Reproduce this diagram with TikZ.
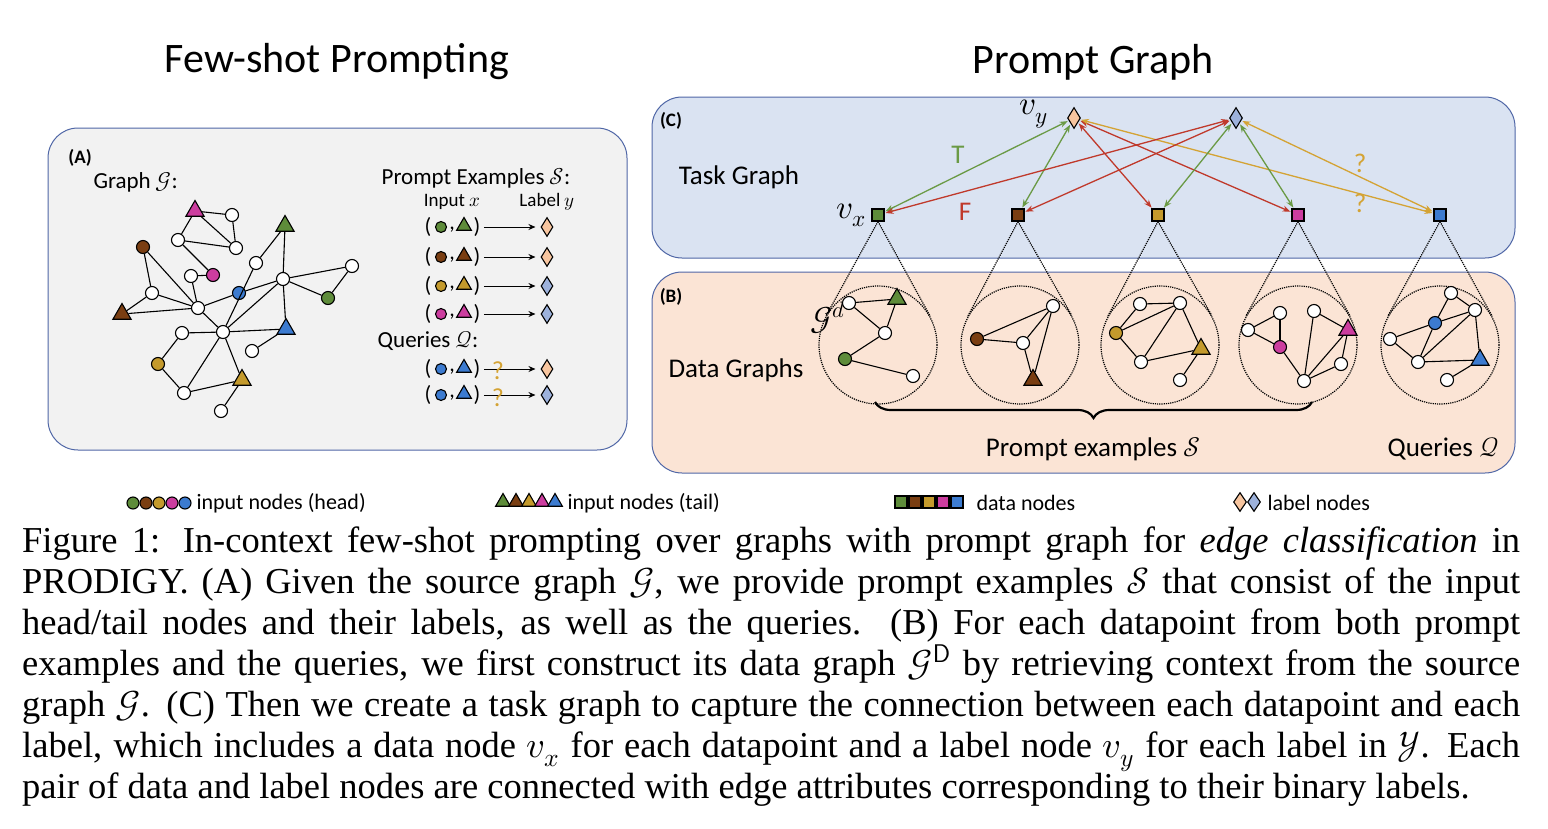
\documentclass[tikz,border=0pt]{standalone}
\usepackage{fontspec}
\usepackage{unicode-math}
\setmainfont{Liberation Serif}
\setmathfont{Latin Modern Math}
\newfontfamily\sff{Carlito}
\usetikzlibrary{shapes.geometric,arrows.meta,calc,decorations.pathreplacing}
\definecolor{cgreen}{HTML}{5E8C3A}
\definecolor{cbrown}{HTML}{7A3E12}
\definecolor{cgold}{HTML}{C49A2C}
\definecolor{cmag}{HTML}{CC3D9F}
\definecolor{cblue}{HTML}{3C7BD0}
\definecolor{dorange}{HTML}{F7C59F}
\definecolor{dblue}{HTML}{9DB2DC}
\definecolor{aT}{HTML}{6A9A45}
\definecolor{aF}{HTML}{C0392B}
\definecolor{aQ}{HTML}{D4A334}
\definecolor{boxline}{HTML}{4F66A6}
\definecolor{fillC}{HTML}{DAE3F2}
\definecolor{fillB}{HTML}{FBE4D5}
\tikzset{
  wn/.style={circle,draw,fill=white,inner sep=0pt,minimum size=13pt,line width=1.1pt},
  hn/.style={wn,fill=#1},
  tn/.style={regular polygon,regular polygon sides=3,draw,fill=#1,inner sep=0pt,minimum size=21pt,line width=1.1pt},
  dn/.style={diamond,draw,fill=#1,inner sep=0pt,minimum width=13pt,minimum height=21pt,line width=1.1pt},
  sq/.style={rectangle,draw,fill=#1,inner sep=0pt,minimum size=12pt,line width=1.1pt},
  ge/.style={line width=1.1pt},
  panel/.style={draw=boxline,line width=1pt,rounded corners=30pt},
  ta/.style={<->,>={Stealth[length=8pt,width=6pt]},line width=1.3pt},
  lab/.style={font=\sff\fontsize{27}{30}\selectfont},
}
\begin{document}
\begin{tikzpicture}[x=1pt,y=-1pt]
\useasboundingbox (0,0) rectangle (1548,828);
% titles
\node[font=\sff\fontsize{42}{44}\selectfont] (tA) at (337,62) {Few-shot Prompting};
\node[font=\sff\fontsize{42}{44}\selectfont] (tB) at (1093,62) {Prompt Graph};
% panels
\draw[panel,fill=black!5] (48,128) rectangle (627,450);
\draw[panel,fill=fillC] (652,97) rectangle (1515,258);
\draw[panel,fill=fillB] (652,272) rectangle (1515,473);

% (A) source graph
\node[font=\sff\bfseries\fontsize{19}{20}\selectfont] (lA) at (80,158) {(A)};
\node[font=\sff\fontsize{23}{25}\selectfont,anchor=west] (lG) at (90,182) {Graph $\mathcal{G}$:};
\node[tn=cmag] (a1) at (195,211) {};
\node[wn] (a2) at (232,215) {};
\node[tn=cgreen] (a3) at (285,226) {};
\node[wn] (a4) at (178,240) {};
\node[wn] (a5) at (236,248) {};
\node[hn=cbrown] (a6) at (143,247) {};
\node[wn] (a7) at (256,263) {};
\node[wn] (a8) at (352,266) {};
\node[wn] (a9) at (191,276) {};
\node[hn=cmag] (a10) at (213,275) {};
\node[wn] (a11) at (283,279) {};
\node[hn=cblue] (a12) at (239,293) {};
\node[wn] (a13) at (152,293) {};
\node[hn=cgreen] (a14) at (328,298) {};
\node[tn=cbrown] (a15) at (122,314) {};
\node[wn] (a16) at (198,308) {};
\node[tn=cblue] (a17) at (286,329) {};
\node[wn] (a18) at (182,333) {};
\node[wn] (a19) at (223,332) {};
\node[wn] (a20) at (252,351) {};
\node[hn=cgold] (a21) at (158,364) {};
\node[tn=cgold] (a22) at (242,380) {};
\node[wn] (a23) at (184,393) {};
\node[wn] (a24) at (221,411) {};
\foreach \u/\v in {1/2,1/4,1/5,2/5,4/5,4/10,9/10,9/16,6/13,6/16,13/15,13/16,15/16,
  16/12,12/11,16/19,3/7,3/11,7/19,11/8,8/14,11/14,11/17,11/19,19/17,19/18,19/23,
  19/22,18/21,21/23,23/22,22/24,20/17}
  \draw[ge] (a\u) -- (a\v);

% (A) prompt examples
\node[font=\sff\fontsize{23}{25}\selectfont] (lS) at (476,178) {Prompt Examples $\mathcal{S}$:};
\node[font=\sff\fontsize{19}{20}\selectfont] (lx) at (452,202) {Input $x$};
\node[font=\sff\fontsize{19}{20}\selectfont] (ly) at (547,202) {Label $y$};
\node[font=\sff\fontsize{23}{25}\selectfont] (lQ) at (428,341) {Queries $\mathcal{Q}$:};
\foreach \i/\y/\hc/\lc in {1/227/cgreen/dorange,2/257/cbrown/dorange,3/286/cgold/dblue,
  4/314/cmag/dblue,5/369/cblue/dorange,6/395/cblue/dblue}{
  \node[font=\sff\fontsize{22}{24}\selectfont] (po\i) at (428,\y) {(};
  \node[hn=\hc,minimum size=11pt] (ph\i) at (441,\y) {};
  \node[font=\sff\fontsize{22}{24}\selectfont] (pc\i) at (452,\y+3) {,};
  \node[tn=\hc,minimum size=17pt] (pt\i) at (464,\y-1) {};
  \node[font=\sff\fontsize{22}{24}\selectfont] (pp\i) at (477,\y) {)};
  \node[dn=\lc,minimum width=12pt,minimum height=19pt] (pd\i) at (547,\y) {};
  \draw[->,>={Stealth[length=7pt,width=6pt]},line width=1pt] (pp\i.east) -- ([xshift=-5pt]pd\i.west);
}
\node[text=aQ,font=\sff\fontsize{26}{28}\selectfont] (q1) at (498,371) {?};
\node[text=aQ,font=\sff\fontsize{26}{28}\selectfont] (q2) at (498,398) {?};

% (C) task graph
\node[font=\sff\bfseries\fontsize{19}{20}\selectfont] (lC) at (671,121) {(C)};
\node[lab] (lT) at (739,177) {Task Graph};
\node[dn=dorange] (y1) at (1074,118) {};
\node[dn=dblue] (y2) at (1236,118) {};
\node[sq=cgreen] (x1) at (878,215) {};
\node[sq=cbrown] (x2) at (1018,215) {};
\node[sq=cgold] (x3) at (1158,215) {};
\node[sq=cmag] (x4) at (1298,215) {};
\node[sq=cblue] (x5) at (1440,215) {};
\node[font=\fontsize{33}{34}\selectfont] (vy) at (1034,114) {$v_y$};
\node[font=\fontsize{33}{34}\selectfont] (vx) at (851,215) {$v_x$};
\foreach \a/\b/\c in {y1/x1/aT,y1/x2/aT,y1/x3/aF,y1/x4/aF,y1/x5/aQ,
  y2/x1/aF,y2/x2/aF,y2/x3/aT,y2/x4/aT,y2/x5/aQ}
  \draw[ta,draw=\c,shorten <=1pt,shorten >=1pt] (\a) -- (\b);
\node[text=aT,lab] (eT) at (958,155) {T};
\node[text=aF,lab] (eF) at (965,212) {F};
\node[text=aQ,lab] (eQ1) at (1360,163) {?};
\node[text=aQ,lab] (eQ2) at (1360,203) {?};

% (B) data graphs
\node[font=\sff\bfseries\fontsize{19}{20}\selectfont] (lB) at (671,297) {(B)};
\node[font=\fontsize{32}{33}\selectfont] (Gd) at (828,318) {$\mathcal{G}^d$};
\node[lab] (lD) at (736,370) {Data Graphs};
\foreach \k/\cx in {1/878,2/1020,3/1160,4/1298,5/1440}{
  \node[circle,draw,densely dotted,line width=1.2pt,minimum size=118pt,inner sep=0pt] (c\k) at (\cx,345) {};
  \draw[densely dotted,line width=1.2pt] (x\k.south) -- (tangent cs:node=c\k,point={(x\k.south)},solution=1);
  \draw[densely dotted,line width=1.2pt] (x\k.south) -- (tangent cs:node=c\k,point={(x\k.south)},solution=2);
}
% graph 1
\node[wn] (b1) at (849,303) {};
\node[tn=cgreen] (b2) at (897,299) {};
\node[wn] (b3) at (885,333) {};
\node[hn=cgreen] (b4) at (845,359) {};
\node[wn] (b5) at (913,376) {};
% graph 2
\node[hn=cbrown] (d1) at (977,339) {};
\node[wn] (d2) at (1053,306) {};
\node[wn] (d3) at (1023,343) {};
\node[tn=cbrown] (d4) at (1033,380) {};
% graph 3
\node[wn] (e1) at (1140,304) {};
\node[wn] (e2) at (1180,303) {};
\node[hn=cgold] (e3) at (1116,333) {};
\node[tn=cgold] (e4) at (1201,349) {};
\node[wn] (e5) at (1141,362) {};
\node[wn] (e6) at (1180,380) {};
% graph 4
\node[wn] (f1) at (1280,313) {};
\node[wn] (f2) at (1314,311) {};
\node[wn] (f3) at (1248,330) {};
\node[hn=cmag] (f4) at (1280,347) {};
\node[tn=cmag] (f5) at (1348,330) {};
\node[wn] (f6) at (1341,364) {};
\node[wn] (f7) at (1304,381) {};
% graph 5
\node[wn] (h1) at (1451,293) {};
\node[wn] (h2) at (1475,310) {};
\node[hn=cblue] (h3) at (1435,323) {};
\node[wn] (h4) at (1390,339) {};
\node[wn] (h5) at (1418,362) {};
\node[tn=cblue] (h6) at (1480,360) {};
\node[wn] (h7) at (1447,380) {};
\foreach \u/\v in {b1/b2,b1/b3,b2/b3,b3/b4,b4/b5,
  d1/d2,d1/d3,d2/d3,d2/d4,d3/d4,
  e1/e2,e1/e3,e3/e2,e2/e5,e2/e4,e3/e5,e5/e4,e4/e6,
  f1/f4,f3/f1,f3/f4,f4/f7,f2/f7,f2/f5,f5/f7,f5/f6,f6/f7,
  h1/h3,h1/h2,h3/h2,h3/h4,h3/h5,h2/h5,h2/h6,h5/h6,h4/h5,h6/h7}
  \draw[ge] (\u) -- (\v);
\draw[decorate,decoration={brace,mirror,amplitude=16pt},line width=2.2pt] (875,402) -- (1312,402);
\node[lab] (lPS) at (1093,449) {Prompt examples $\mathcal{S}$};
\node[lab] (lQQ) at (1443,449) {Queries $\mathcal{Q}$};

% legend
\foreach \c [count=\i] in {cgreen,cbrown,cgold,cmag,cblue}{
  \node[hn=\c,minimum size=12pt] (lh\i) at (120+13*\i,503) {};
  \node[tn=\c,minimum size=17pt] (lt\i) at (490+13*\i,502) {};
  \node[sq=\c,minimum size=12pt] (ls\i) at (887+14*\i,502) {};
}
\node[dn=dorange,minimum height=19pt] (ld1) at (1240,502) {};
\node[dn=dblue,minimum height=19pt] (ld2) at (1254,502) {};
\node[anchor=west,font=\sff\fontsize{22}{24}\selectfont] (lgh) at (193,503) {input nodes (head)};
\node[anchor=west,font=\sff\fontsize{22}{24}\selectfont] (lgt) at (564,503) {input nodes (tail)};
\node[anchor=west,font=\sff\fontsize{22}{24}\selectfont] (lgs) at (973,503) {data nodes};
\node[anchor=west,font=\sff\fontsize{22}{24}\selectfont] (lgd) at (1264,503) {label nodes};

% caption
\node[anchor=north west,text width=1498pt,align=justify,inner sep=0pt,font=\fontsize{36.5}{41}\selectfont] (cap) at (22,527) {%
Figure 1: In-context few-shot prompting over graphs with prompt graph for \emph{edge classification} in\linebreak
PRODIGY. (A) Given the source graph $\mathcal{G}$, we provide prompt examples $\mathcal{S}$ that consist of the input\linebreak
head/tail nodes and their labels, as well as the queries.\ \ (B) For each datapoint from both prompt\linebreak
examples and the queries, we first construct its data graph $\mathcal{G}^{\mathsf{D}}$ by retrieving context from the source\linebreak
graph $\mathcal{G}$. (C) Then we create a task graph to capture the connection between each datapoint and each\linebreak
label, which includes a data node $v_x$ for each datapoint and a label node $v_y$ for each label in $\mathcal{Y}$. Each\linebreak
pair of data and label nodes are connected with edge attributes corresponding to their binary labels.};
\end{tikzpicture}
\end{document}
